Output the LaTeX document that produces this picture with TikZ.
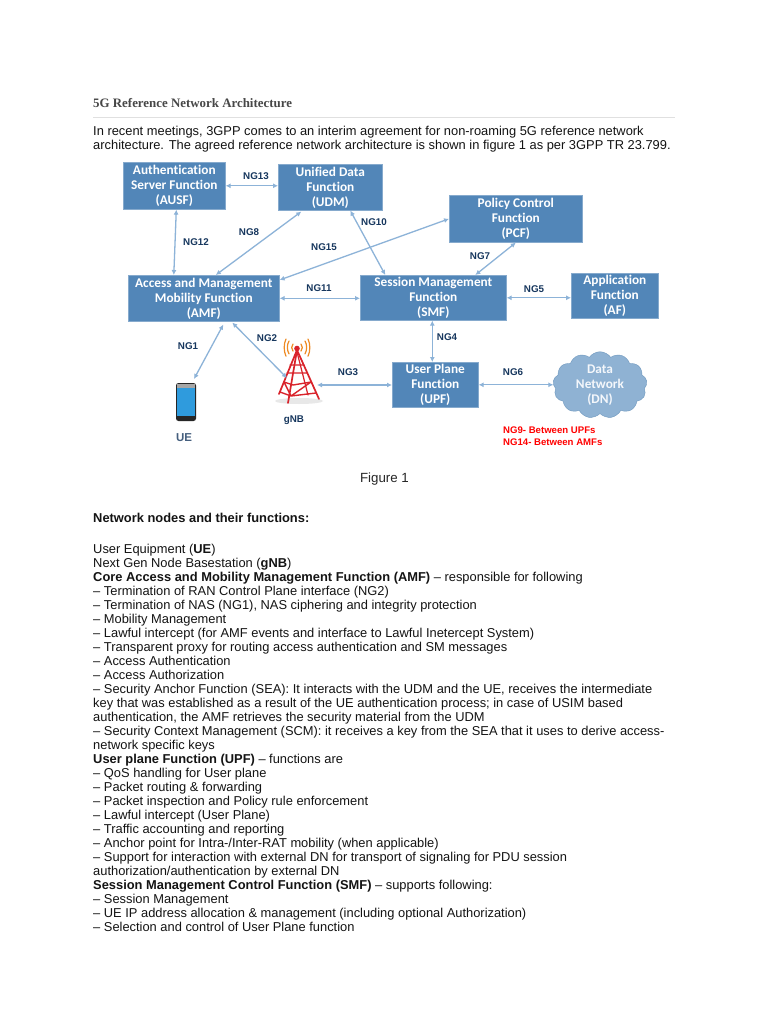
\documentclass[tikz,border=0pt]{standalone}
\usepackage{fontspec}
\setmainfont{Liberation Sans}
\newfontfamily\serifb{Liberation Serif}
\newfontfamily\carl[Ligatures=NoCommon]{Carlito}
\usetikzlibrary{arrows.meta,shapes.symbols}
\definecolor{boxblue}{HTML}{5286B8}
\definecolor{arrowblue}{HTML}{8DB3D8}
\definecolor{cloudblue}{HTML}{8FB2D3}
\definecolor{cloudline}{HTML}{6F98BE}
\definecolor{labelblue}{HTML}{17375E}
\definecolor{towerred}{HTML}{D9232B}
\definecolor{ringorange}{HTML}{EE8A22}
\definecolor{screenblue}{HTML}{2F9BDD}
\tikzset{
  fn/.style={draw=boxblue!70!white,line width=.6pt,fill=boxblue,text=white,font=\carl\bfseries\fontsize{13.3}{15}\selectfont,align=center,inner sep=0pt,anchor=north west,text depth=1pt},
  conn/.style={draw=arrowblue,line width=1.3pt,{Latex[length=5pt,width=5pt]}-{Latex[length=5pt,width=5pt]}},
  nglabel/.style={text=labelblue,font=\bfseries\fontsize{9.8}{11}\selectfont,inner sep=0pt},
  prose/.style={anchor=north west,inner sep=0pt,align=left,text=black!92,font=\fontsize{12.88}{14}\selectfont},
  tower/.style={draw=towerred,line cap=round,line join=round},
  ring/.style={draw=ringorange,line width=1.2pt,line cap=round},
}
\newcommand{\fnbox}[6]{\node[fn,minimum width=#4pt,minimum height=#5pt] (#1) at (#2,#3) {#6};}
\begin{document}
\begin{tikzpicture}[x=1pt,y=-1pt]
\useasboundingbox (0,0) rectangle (768,1024);
\fill[white] (0,0) rectangle (768,1024);
% heading
\node[anchor=west,inner sep=0pt,text=black!72,font=\serifb\bfseries\fontsize{12.9}{14}\selectfont] (title) at (93,103) {5G Reference Network Architecture};
\draw[black!12,line width=.7pt] (93,117) -- (675,117);
\node[prose] (intro) at (93,126) {In recent meetings, 3GPP comes to an interim agreement for non-roaming 5G reference network\\architecture. The agreed reference network architecture is shown in figure 1 as per 3GPP TR 23.799.};
% function boxes
\fnbox{ausf}{123}{162}{102}{47}{Authentication\\Server Function\\(AUSF)}
\fnbox{udm}{278}{164}{104}{46}{Unified Data\\Function\\(UDM)}
\fnbox{pcf}{449}{195}{133}{47}{Policy Control\\Function\\(PCF)}
\fnbox{amf}{128}{275}{151}{46}{Access and Management\\Mobility Function\\(AMF)}
\fnbox{smf}{360}{275}{146}{45}{Session Management\\Function\\(SMF)}
\fnbox{af}{571}{273}{87}{45}{Application\\Function\\(AF)}
\fnbox{upf}{392}{362}{86}{45}{User Plane\\Function\\(UPF)}
% cloud
\node[cloud,cloud puffs=13,cloud puff arc=110,aspect=1.5,draw=cloudline,fill=cloudblue,text=white!90!cloudblue,
      minimum width=94pt,minimum height=62pt,inner sep=0pt,align=center,
      font=\carl\bfseries\fontsize{13.3}{15}\selectfont] (dn) at (600,385) {Data\\Network\\(DN)};
% gNB tower
\coordinate (gnb) at (297,385);
\fill[black!15,opacity=.6] (299,401) ellipse (24pt and 3pt);
\draw[tower,line width=1.7pt] (279,394) -- (297,350) -- (319,399);
\draw[tower,line width=1.7pt] (297,350) -- (288,403);
\draw[tower,line width=1.2pt] (297,352) -- (308,395);
\draw[tower,line width=1.4pt]
  (290,365) -- (304,365)
  (287,373) -- (307,373)
  (284,382) -- (293,385) -- (311,382)
  (280,392) -- (291,396) -- (316,393)
  (284,382) -- (291,396) (311,382) -- (291,396);
\fill[towerred] (297,348.5) circle (2.8pt);
\draw[ring] (293,344) arc (135:225:4.5pt and 5pt);
\draw[ring] (301,344) arc (45:-45:4.5pt and 5pt);
\draw[ring] (289,341) arc (140:220:7pt and 10pt);
\draw[ring] (305,341) arc (40:-40:7pt and 10pt);
\draw[ring] (286,339) arc (145:215:10pt and 15pt);
\draw[ring] (308,339) arc (35:-35:10pt and 15pt);
% phone
\coordinate (ue) at (186,402);
\fill[black!85,rounded corners=2.5pt] (176,383) rectangle (196,421);
\fill[black!35] (177,384) rectangle (195,388);
\fill[screenblue] (176.8,388) rectangle (195.2,416);
% connectors
\draw[conn] ([xshift=2pt]ausf.south) -- ([xshift=-30pt]amf.north);
\draw[conn] (ausf.east) -- (udm.west |- ausf.east);
\draw[conn] ([xshift=-29pt,yshift=-1pt]udm.south) -- ([xshift=12pt]amf.north);
\draw[conn] ([xshift=20pt]udm.south) -- ([xshift=-48pt]smf.north);
\draw[conn] ([yshift=-5pt]amf.north east) -- ([yshift=0pt]pcf.west);
\draw[conn] (amf.east) -- (smf.west |- amf.east);
\draw[conn] (pcf.south) -- ([xshift=42pt]smf.north);
\draw[conn] (smf.east) -- (af.west |- smf.east);
\draw[conn] ([xshift=-1pt]smf.south) -- ([xshift=-1pt]upf.north -| smf.south);
\draw[conn] (upf.east) -- (dn.west |- upf.east);
\draw[conn] ([xshift=20pt]gnb) -- (upf.west |- gnb);
\draw[conn] ([xshift=19.5pt,yshift=-3pt]amf.south) -- ([xshift=8pt,yshift=23pt]ue);
\draw[conn] ([xshift=28.5pt,yshift=-1pt]amf.south) -- ([xshift=-10pt,yshift=7pt]gnb);
% connector labels
\node[nglabel] (l13) at (256,176) {NG13};
\node[nglabel] (l12) at (196,242) {NG12};
\node[nglabel] (l8) at (249,232) {NG8};
\node[nglabel] (l10) at (374,222) {NG10};
\node[nglabel] (l15) at (324,247) {NG15};
\node[nglabel] (l7) at (480,256) {NG7};
\node[nglabel] (l11) at (319,288) {NG11};
\node[nglabel] (l5) at (534,289) {NG5};
\node[nglabel] (l4) at (447,337) {NG4};
\node[nglabel] (l1) at (188,346) {NG1};
\node[nglabel] (l2) at (267,338) {NG2};
\node[nglabel] (l3) at (348,372) {NG3};
\node[nglabel] (l6) at (513,372) {NG6};
\node[nglabel] (lg) at (294,420) {gNB};
\node[text=labelblue!80!white,font=\bfseries\fontsize{11.5}{14}\selectfont,inner sep=0pt] (lue) at (184,438) {UE};
\node[anchor=north west,inner sep=0pt,align=left,text=red,font=\bfseries\fontsize{9.6}{11.5}\selectfont] (notes) at (503,427) {NG9- Between UPFs\\NG14- Between AMFs};
\node[inner sep=0pt,text=black!85,font=\fontsize{13.3}{14}\selectfont] (fig) at (384.5,479) {Figure 1};
% body text
\node[prose,font=\bfseries\fontsize{12.88}{14}\selectfont] (head) at (93,513) {Network nodes and their functions:};
\node[prose] (body) at (93,544) {User Equipment (\textbf{UE})\\
Next Gen Node Basestation (\textbf{gNB})\\
\textbf{Core Access and Mobility Management Function (AMF)} – responsible for following\\
– Termination of RAN Control Plane interface (NG2)\\
– Termination of NAS (NG1), NAS ciphering and integrity protection\\
– Mobility Management\\
– Lawful intercept (for AMF events and interface to Lawful Inetercept System)\\
– Transparent proxy for routing access authentication and SM messages\\
– Access Authentication\\
– Access Authorization\\
– Security Anchor Function (SEA): It interacts with the UDM and the UE, receives the intermediate\\
key that was established as a result of the UE authentication process; in case of USIM based\\
authentication, the AMF retrieves the security material from the UDM\\
– Security Context Management (SCM): it receives a key from the SEA that it uses to derive access-\\
network specific keys\\
\textbf{User plane Function (UPF)} – functions are\\
– QoS handling for User plane\\
– Packet routing \& forwarding\\
– Packet inspection and Policy rule enforcement\\
– Lawful intercept (User Plane)\\
– Traffic accounting and reporting\\
– Anchor point for Intra-/Inter-RAT mobility (when applicable)\\
– Support for interaction with external DN for transport of signaling for PDU session\\
authorization/authentication by external DN\\
\textbf{Session Management Control Function (SMF)} – supports following:\\
– Session Management\\
– UE IP address allocation \& management (including optional Authorization)\\
– Selection and control of User Plane function};
\end{tikzpicture}
\end{document}
